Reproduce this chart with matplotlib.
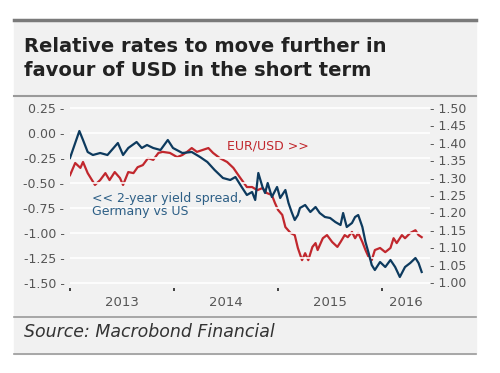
import matplotlib
matplotlib.use("Agg")
import matplotlib.pyplot as plt
from matplotlib.patches import Rectangle
from matplotlib.lines import Line2D

# 2-year yield spread, Germany vs US (left axis, %-pts), x in decimal years
spread_t = [2013.00, 2013.09, 2013.125, 2013.17, 2013.22, 2013.29, 2013.36, 2013.46, 2013.51, 2013.56,
            2013.64, 2013.69, 2013.74, 2013.80, 2013.87, 2013.94, 2013.99, 2014.08, 2014.17, 2014.25,
            2014.32, 2014.39, 2014.47, 2014.54, 2014.59, 2014.65, 2014.70, 2014.75, 2014.78, 2014.81,
            2014.85, 2014.875, 2014.90, 2014.94, 2014.99, 2015.02, 2015.07, 2015.10, 2015.13, 2015.16,
            2015.19, 2015.21, 2015.26, 2015.31, 2015.36, 2015.40, 2015.45, 2015.50, 2015.55, 2015.60,
            2015.625, 2015.66, 2015.71, 2015.74, 2015.77, 2015.81, 2015.84, 2015.87, 2015.90, 2015.93,
            2015.98, 2016.03, 2016.08, 2016.125, 2016.17, 2016.22, 2016.27, 2016.32, 2016.35, 2016.38]
spread_v = [-0.25, 0.02, -0.07, -0.19, -0.22, -0.20, -0.22, -0.10, -0.22, -0.15,
            -0.09, -0.15, -0.12, -0.15, -0.17, -0.07, -0.15, -0.20, -0.19, -0.24,
            -0.29, -0.37, -0.45, -0.47, -0.44, -0.54, -0.62, -0.59, -0.67, -0.40,
            -0.54, -0.60, -0.50, -0.64, -0.54, -0.65, -0.57, -0.70, -0.79, -0.87,
            -0.82, -0.75, -0.72, -0.79, -0.74, -0.80, -0.84, -0.85, -0.89, -0.92,
            -0.80, -0.94, -0.90, -0.84, -0.82, -0.94, -1.09, -1.20, -1.32, -1.37,
            -1.29, -1.34, -1.27, -1.34, -1.44, -1.34, -1.30, -1.25, -1.30, -1.39]

# EUR/USD (right axis)
eurusd_t = [2013.00, 2013.05, 2013.10, 2013.125, 2013.17, 2013.24, 2013.29, 2013.34, 2013.38, 2013.43,
            2013.48, 2013.51, 2013.56, 2013.61, 2013.65, 2013.70, 2013.75, 2013.80, 2013.85, 2013.89,
            2013.96, 2014.03, 2014.08, 2014.125, 2014.17, 2014.22, 2014.27, 2014.33, 2014.375, 2014.44,
            2014.51, 2014.57, 2014.63, 2014.70, 2014.75, 2014.80, 2014.85, 2014.89, 2014.94, 2014.97,
            2015.00, 2015.04, 2015.07, 2015.12, 2015.16, 2015.19, 2015.23, 2015.26, 2015.29, 2015.33,
            2015.36, 2015.38, 2015.43, 2015.47, 2015.52, 2015.57, 2015.60, 2015.64, 2015.67, 2015.71,
            2015.74, 2015.77, 2015.81, 2015.84, 2015.87, 2015.90, 2015.93, 2015.98, 2016.03, 2016.08,
            2016.11, 2016.14, 2016.19, 2016.22, 2016.27, 2016.32, 2016.35, 2016.38]
eurusd_v = [1.307, 1.342, 1.328, 1.345, 1.313, 1.279, 1.293, 1.313, 1.293, 1.316,
            1.299, 1.279, 1.316, 1.313, 1.330, 1.336, 1.356, 1.351, 1.371, 1.374,
            1.371, 1.359, 1.365, 1.374, 1.385, 1.374, 1.379, 1.385, 1.371, 1.356,
            1.345, 1.328, 1.302, 1.273, 1.273, 1.264, 1.270, 1.256, 1.250, 1.227,
            1.207, 1.193, 1.158, 1.141, 1.135, 1.098, 1.063, 1.083, 1.063, 1.101,
            1.112, 1.092, 1.126, 1.135, 1.115, 1.101, 1.115, 1.135, 1.129, 1.144,
            1.126, 1.141, 1.115, 1.092, 1.072, 1.063, 1.092, 1.098, 1.086, 1.098,
            1.126, 1.112, 1.135, 1.126, 1.141, 1.149, 1.135, 1.129]

left_ticks = [0.25, 0.0, -0.25, -0.5, -0.75, -1.0, -1.25, -1.5]
right_ticks = [1.50, 1.45, 1.40, 1.35, 1.30, 1.25, 1.20, 1.15, 1.10, 1.05, 1.00]
years = [2013, 2014, 2015, 2016]
year_label_pos = [2013.5, 2014.5, 2015.5, 2016.23]

W, H = 500, 373
BG = "#f1f1f1"
fig = plt.figure(figsize=(5, 3.73), dpi=100)
fig.patch.set_facecolor("white")


def fy(y):
    return 1 - y / H


# grey panel and rules
fig.patches.append(Rectangle((14 / W, fy(354)), 462 / W, (354 - 20) / H,
                             transform=fig.transFigure, color=BG, zorder=-10))
for y, lw, c in [(20, 2.5, "#7a7a7a"), (96, 1.5, "#9a9a9a"), (317, 1.2, "#9a9a9a"), (354, 1.2, "#9a9a9a")]:
    fig.lines.append(Line2D([14 / W, 476 / W], [fy(y), fy(y)], transform=fig.transFigure,
                            color=c, lw=lw, zorder=-5))

fig.text(24 / W, fy(46), "Relative rates to move further in", fontsize=14,
         fontweight="bold", color="#222222", va="center")
fig.text(24 / W, fy(70), "favour of USD in the short term", fontsize=14,
         fontweight="bold", color="#222222", va="center")
fig.text(24 / W, fy(332), "Source: Macrobond Financial", fontsize=12.5,
         style="italic", color="#333333", va="center")

# right axis drawn first (underneath), spread axis on top
ax2 = fig.add_axes([70 / W, fy(288), 360 / W, 188 / H])
ax2.set_facecolor(BG)
ax = ax2.twinx()
ax.yaxis.set_label_position("left")
ax.yaxis.tick_left()
ax2.yaxis.set_label_position("right")
ax2.yaxis.tick_right()

for a in (ax, ax2):
    for s in a.spines.values():
        s.set_visible(False)

ax.set_ylim(-1.55, 0.33)
ax.set_yticks(left_ticks)
ax.set_yticklabels(["%.2f -" % v for v in left_ticks])
ax.tick_params(axis="y", length=0, labelsize=9, labelcolor="#555555", pad=4)

ax2.set_ylim(0.983, 1.523)
ax2.set_yticks(right_ticks)
ax2.set_yticklabels(["- %.2f" % v for v in right_ticks])
ax2.tick_params(axis="y", length=0, labelsize=9, labelcolor="#555555", pad=0)

# white gridlines at left-axis ticks
for v in left_ticks:
    ax.axhline(v, color="white", lw=1.2, zorder=0)

ax2.set_xlim(2013.0, 2016.46)
ax2.set_xticks(years)
ax2.set_xticklabels([])
ax2.tick_params(axis="x", which="major", length=2.5, width=1.3, color="#333333", direction="out")
ax2.set_xticks(year_label_pos, minor=True)
ax2.set_xticklabels([str(y) for y in years], minor=True)
ax2.tick_params(axis="x", which="minor", length=0, labelsize=9.5, labelcolor="#555555", pad=6)

ax2.plot(eurusd_t, eurusd_v, color="#c1272d", lw=1.6, zorder=3)
ax.plot(spread_t, spread_v, color="#0d3a5e", lw=1.6, zorder=4)

ax.text(2013.21, -0.72, "<< 2-year yield spread,\nGermany vs US", color="#2d5f86",
        fontsize=9, va="center", linespacing=1.0)
ax.text(2014.51, -0.13, "EUR/USD >>", color="#c1272d", fontsize=9, va="center")

fig.savefig("out.png", dpi=100)
